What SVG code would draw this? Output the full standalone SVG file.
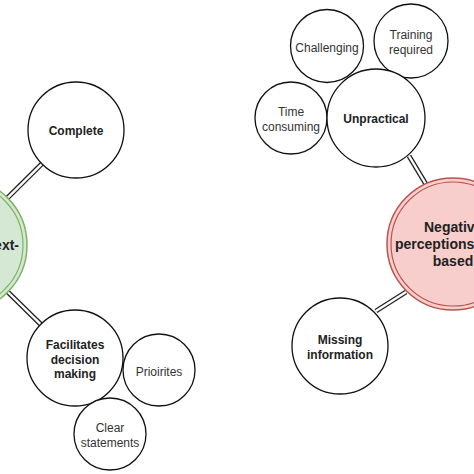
<svg xmlns="http://www.w3.org/2000/svg" width="474" height="474" viewBox="0 0 474 474">
<style>
.n{fill:#fff;stroke:#111;stroke-width:1.3}
.t{font-family:"Liberation Sans",Arial,sans-serif;font-size:12px;text-anchor:middle;fill:#333}
.b{font-weight:bold;fill:#222}
.big{font-family:"Liberation Sans",Arial,sans-serif;font-size:14px;font-weight:bold;fill:#222}
.co{stroke:#222;stroke-width:5;stroke-linecap:butt;fill:none}
.ci{stroke:#fff;stroke-width:2.4;stroke-linecap:butt;fill:none}
</style>
<rect width="474" height="474" fill="#fff"/>
<g id="connectors">
<line class="co" x1="7.6" y1="197.8" x2="41.9" y2="163.8"/><line class="ci" x1="7.6" y1="197.8" x2="41.9" y2="163.8"/>
<line class="co" x1="7.8" y1="292" x2="40.8" y2="324.4"/><line class="ci" x1="7.8" y1="292" x2="40.8" y2="324.4"/>
<line class="co" x1="409" y1="156" x2="427" y2="186"/><line class="ci" x1="409" y1="156" x2="427" y2="186"/>
<line class="co" x1="406" y1="292" x2="376" y2="311"/><line class="ci" x1="406" y1="292" x2="376" y2="311"/>
</g>
<g id="positive">
<circle cx="-40" cy="245" r="67" fill="#d5e8d4" stroke="#82b366" stroke-width="1.5"/>
<circle cx="-40" cy="245" r="63" fill="none" stroke="#82b366" stroke-width="1.2"/>
<text class="big" x="19" y="250" text-anchor="end">ext-</text>
</g>
<g id="complete">
<circle class="n" cx="76" cy="130" r="48"/>
<text class="t b" x="76" y="135">Complete</text>
</g>
<g id="facilitates">
<circle class="n" cx="75" cy="358" r="48"/>
<text class="t b" x="75" y="349">Facilitates</text>
<text class="t b" x="75" y="363.5">decision</text>
<text class="t b" x="75" y="378">making</text>
</g>
<g id="prioirites">
<circle class="n" cx="159" cy="370" r="36"/>
<text class="t" x="159" y="376">Prioirites</text>
</g>
<g id="clear">
<circle class="n" cx="110" cy="434" r="36"/>
<text class="t" x="110" y="432">Clear</text>
<text class="t" x="110" y="447">statements</text>
</g>
<g id="challenging">
<circle class="n" cx="327" cy="46" r="36.5"/>
<text class="t" x="327" y="52">Challenging</text>
</g>
<g id="training">
<circle class="n" cx="411" cy="41" r="37"/>
<text class="t" x="411" y="39">Training</text>
<text class="t" x="411" y="54">required</text>
</g>
<g id="time">
<circle class="n" cx="291" cy="118" r="36"/>
<text class="t" x="291" y="116">Time</text>
<text class="t" x="291" y="131">consuming</text>
</g>
<g id="unpractical">
<circle class="n" cx="376" cy="118" r="49"/>
<text class="t b" x="376" y="123">Unpractical</text>
</g>
<g id="negative">
<circle cx="453" cy="244" r="66" fill="#f8cecc" stroke="#b85450" stroke-width="1.5"/>
<circle cx="453" cy="244" r="62" fill="none" stroke="#b85450" stroke-width="1.2"/>
<text class="big" x="424" y="232">Negativ</text>
<text class="big" x="395" y="249">perceptions</text>
<text class="big" x="453" y="266" text-anchor="middle">based</text>
</g>
<g id="missing">
<circle class="n" cx="340" cy="346" r="48"/>
<text class="t b" x="340" y="344">Missing</text>
<text class="t b" x="340" y="359">information</text>
</g>
</svg>
